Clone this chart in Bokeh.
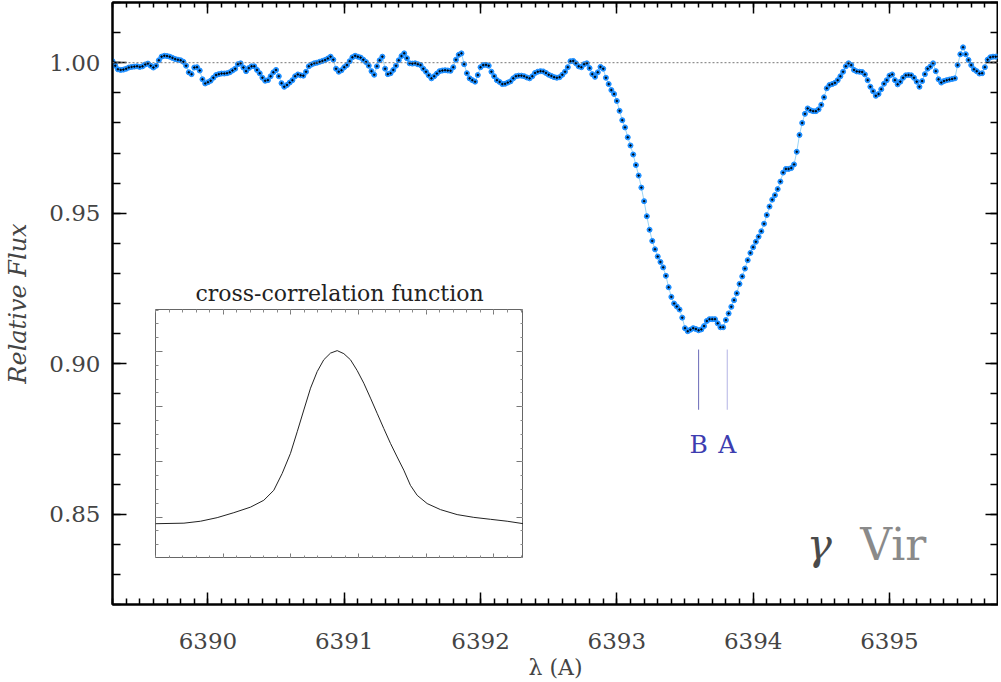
import numpy as np
from bokeh.plotting import figure
from bokeh.models import (Range1d, FixedTicker, LinearAxis, Span, PrintfTickFormatter,
                          CustomLabelingPolicy)
from bokeh.layouts import column
from bokeh.core.properties import value
from bokeh.embed import file_html
from bokeh.resources import INLINE

FONT = "DejaVu Serif"

# ---------------- data ----------------
wavelength_start = 6389.30
wavelength_step = 0.02
flux = [
    1.0005, 0.9990, 0.9978, 0.9976, 0.9977, 0.9980, 0.9984, 0.9986, 0.9987, 0.9988,  # 6389.30
    0.9986, 0.9988, 0.9994, 0.9997, 0.9990, 0.9984, 0.9990, 1.0008, 1.0020, 1.0023,  # 6389.50
    1.0022, 1.0020, 1.0016, 1.0012, 1.0010, 1.0008, 1.0003, 0.9990, 0.9968, 0.9962,  # 6389.70
    0.9984, 0.9985, 0.9974, 0.9945, 0.9931, 0.9935, 0.9940, 0.9950, 0.9959, 0.9962,  # 6389.90
    0.9964, 0.9964, 0.9965, 0.9968, 0.9974, 0.9980, 0.9995, 0.9998, 0.9984, 0.9972,  # 6390.10
    0.9982, 0.9988, 0.9988, 0.9976, 0.9965, 0.9950, 0.9940, 0.9942, 0.9955, 0.9968,  # 6390.30
    0.9976, 0.9955, 0.9932, 0.9920, 0.9926, 0.9934, 0.9942, 0.9955, 0.9961, 0.9958,  # 6390.50
    0.9957, 0.9970, 0.9988, 0.9994, 0.9998, 1.0000, 1.0003, 1.0006, 1.0009, 1.0014,  # 6390.70
    1.0020, 1.0010, 0.9980, 0.9970, 0.9975, 0.9985, 0.9992, 1.0005, 1.0018, 1.0023,  # 6390.90
    1.0020, 1.0017, 1.0010, 1.0002, 0.9990, 0.9972, 0.9960, 0.9988, 1.0008, 1.0020,  # 6391.10
    0.9980, 0.9962, 0.9965, 0.9976, 0.9990, 1.0008, 1.0022, 1.0031, 1.0015, 0.9998,  # 6391.30
    0.9997, 0.9998, 0.9995, 0.9992, 0.9980, 0.9970, 0.9958, 0.9948, 0.9955, 0.9964,  # 6391.50
    0.9972, 0.9974, 0.9975, 0.9974, 0.9973, 0.9985, 1.0010, 1.0026, 1.0031, 0.9995,  # 6391.70
    0.9965, 0.9948, 0.9942, 0.9937, 0.9959, 0.9985, 0.9992, 0.9993, 0.9990, 0.9970,  # 6391.90
    0.9955, 0.9942, 0.9936, 0.9929, 0.9930, 0.9934, 0.9938, 0.9948, 0.9955, 0.9957,  # 6392.10
    0.9957, 0.9955, 0.9951, 0.9948, 0.9955, 0.9966, 0.9970, 0.9972, 0.9971, 0.9966,  # 6392.30
    0.9960, 0.9956, 0.9952, 0.9950, 0.9952, 0.9960, 0.9970, 0.9985, 1.0005, 1.0006,  # 6392.50
    0.9998, 0.9988, 0.9985, 0.9995, 0.9998, 0.9982, 0.9962, 0.9953, 0.9968, 0.9986,  # 6392.70
    0.9980, 0.9950, 0.9929, 0.9909, 0.9896, 0.9873, 0.9840, 0.9809, 0.9785, 0.9752,  # 6392.90
    0.9725, 0.9695, 0.9660, 0.9625, 0.9585, 0.9540, 0.9490, 0.9445, 0.9408, 0.9380,  # 6393.10
    0.9356, 0.9338, 0.9320, 0.9292, 0.9254, 0.9222, 0.9200, 0.9190, 0.9180, 0.9153,  # 6393.30
    0.9118, 0.9108, 0.9113, 0.9118, 0.9115, 0.9111, 0.9114, 0.9125, 0.9142, 0.9148,  # 6393.50
    0.9148, 0.9148, 0.9134, 0.9121, 0.9121, 0.9145, 0.9167, 0.9189, 0.9211, 0.9234,  # 6393.70
    0.9265, 0.9290, 0.9316, 0.9344, 0.9368, 0.9387, 0.9405, 0.9422, 0.9440, 0.9465,  # 6393.90
    0.9494, 0.9522, 0.9545, 0.9560, 0.9580, 0.9605, 0.9635, 0.9647, 0.9647, 0.9650,  # 6394.10
    0.9662, 0.9704, 0.9760, 0.9800, 0.9830, 0.9848, 0.9842, 0.9839, 0.9839, 0.9845,  # 6394.30
    0.9860, 0.9885, 0.9915, 0.9926, 0.9929, 0.9933, 0.9942, 0.9955, 0.9970, 0.9988,  # 6394.50
    0.9998, 0.9992, 0.9976, 0.9971, 0.9970, 0.9969, 0.9961, 0.9942, 0.9920, 0.9905,  # 6394.70
    0.9890, 0.9896, 0.9912, 0.9930, 0.9942, 0.9957, 0.9961, 0.9942, 0.9928, 0.9937,  # 6394.90
    0.9950, 0.9958, 0.9959, 0.9958, 0.9950, 0.9937, 0.9920, 0.9939, 0.9962, 0.9980,  # 6395.10
    0.9987, 0.9998, 0.9972, 0.9945, 0.9934, 0.9939, 0.9942, 0.9944, 0.9946, 0.9948,  # 6395.30
    0.9992, 1.0028, 1.0051, 1.0028, 1.0009, 0.9992, 0.9978, 0.9972, 0.9964, 0.9965,  # 6395.50
    0.9985, 1.0010, 1.0018, 1.0020, 1.0020, 1.0021,                                  # 6395.70
]
wavelength = wavelength_start + wavelength_step * np.arange(len(flux))

x_major_ticks = [6390, 6391, 6392, 6393, 6394, 6395]
y_major_ticks = [0.85, 0.90, 0.95, 1.00]

component_names = ["B", "A"]
component_lambda = [6393.60, 6393.81]
component_colors = ["#6a6ab8", "#b4b4e4"]
marker_bottom = 0.8847
marker_top = 0.9047
label_level = 0.8731

# cross-correlation function (inset)
ccf_shift = [-3.000, -2.580, -2.335, -2.089, -1.843, -1.597, -1.400, -1.253, -1.129, -1.006,
             -0.907, -0.809, -0.710, -0.612, -0.514, -0.415, -0.316, -0.218, -0.120, -0.021,
             0.077, 0.176, 0.274, 0.372, 0.471, 0.569, 0.668, 0.766, 0.865, 1.013,
             1.210, 1.456, 1.702, 1.948, 2.195, 2.436]
ccf_value = [0.176, 0.178, 0.185, 0.198, 0.216, 0.236, 0.261, 0.297, 0.358, 0.431,
             0.509, 0.588, 0.667, 0.727, 0.770, 0.794, 0.803, 0.792, 0.770, 0.731,
             0.685, 0.631, 0.576, 0.521, 0.467, 0.418, 0.370, 0.315, 0.279, 0.249,
             0.227, 0.209, 0.199, 0.192, 0.185, 0.176]
ccf_x_major = [-2, -1, 0, 1, 2]
ccf_y_major = [0.2, 0.4, 0.6, 0.8]

# hides tick labels of the tick-only (mirror) axes
NO_LABELS_CODE = """
try { for (const i of Array.from(indices)) { indices.unset(i) } } catch (e) {}
return indices
"""

# ---------------- main figure ----------------
p = figure(frame_width=886, frame_height=602,
           x_range=Range1d(6389.3, 6395.8), y_range=Range1d(0.82, 1.02),
           output_backend="svg", toolbar_location=None,
           min_border_left=112, min_border_right=0, min_border_top=2, min_border_bottom=72,
           x_axis_label="λ (A)", y_axis_label="Relative Flux")
p.grid.visible = False
p.outline_line_color = "black"
p.outline_line_width = 2
p.background_fill_color = "white"

x_minor = [round(v, 2) for v in np.arange(6389.3, 6395.85, 0.1)]
y_minor = [round(v, 3) for v in np.arange(0.82, 1.0201, 0.01)]
xt = FixedTicker(ticks=x_major_ticks, minor_ticks=x_minor)
yt = FixedTicker(ticks=y_major_ticks, minor_ticks=y_minor)

top_axis = LinearAxis(ticker=xt)
right_axis = LinearAxis(ticker=yt)
p.add_layout(top_axis, "above")
p.add_layout(right_axis, "right")

for ax in p.axis:
    ax.axis_line_width = 2
    ax.axis_line_color = "black"
    ax.major_tick_line_width = 1.5
    ax.minor_tick_line_width = 1.5
    ax.major_tick_line_color = "black"
    ax.minor_tick_line_color = "black"
    ax.major_tick_out = 0
    ax.minor_tick_out = 0
    ax.major_label_text_font = FONT
    ax.major_label_text_font_size = "23px"
    ax.major_label_text_color = "#444444"
    ax.axis_label_text_font = FONT
    ax.axis_label_text_font_size = "22px"
    ax.axis_label_text_color = "#444444"
    ax.axis_label_text_font_style = "normal"

for ax in p.xaxis:
    ax.ticker = xt
    ax.formatter = PrintfTickFormatter(format="%d")
    ax.major_tick_in = 12
    ax.minor_tick_in = 6
    ax.major_label_standoff = 28
    ax.axis_label_standoff = 3
for ax in p.yaxis:
    ax.ticker = yt
    ax.formatter = PrintfTickFormatter(format="%.2f")
    ax.major_tick_in = 14
    ax.minor_tick_in = 8
    ax.major_label_standoff = 12
    ax.axis_label_standoff = 14
p.yaxis[0].axis_label_text_font_style = "italic"
p.yaxis[0].axis_label_text_font_size = "24px"

top_axis.major_tick_in = 11
top_axis.minor_tick_in = 5
right_axis.major_tick_in = 13
right_axis.minor_tick_in = 8
for ax in (top_axis, right_axis):
    ax.major_label_text_font_size = "0px"
    ax.major_label_standoff = 0
    ax.axis_label = None
    ax.major_label_policy = CustomLabelingPolicy(code=NO_LABELS_CODE)

p.add_layout(Span(location=1.0, dimension="width", line_color="#777777",
                  line_dash="2 2", line_width=1))

p.line(wavelength, flux, line_color="#9ad4f5", line_width=1)
p.scatter(wavelength, flux, size=5, fill_color="#1e8fff", line_color="#1e8fff")
p.scatter(wavelength, flux, size=1.5, fill_color="black", line_color="black")

p.segment(x0=component_lambda, y0=[marker_bottom] * 2, x1=component_lambda, y1=[marker_top] * 2,
          line_color=component_colors, line_width=1)
p.text(x=component_lambda, y=[label_level] * 2, text=component_names,
       text_align="center", text_baseline="middle", text_font=value(FONT),
       text_font_size="25px", text_color="#3d3db0")

p.text(x=[6394.485], y=[0.8399], text=["γ"], text_align="center", text_baseline="alphabetic",
       text_font=value(FONT), text_font_size="42px", text_font_style="italic", text_color="#4a4a4a")
p.text(x=[6394.785], y=[0.8399], text=["Vir"], text_align="left", text_baseline="alphabetic",
       text_font=value(FONT), text_font_size="44px", text_color="#8a8a8a")

# ---------------- inset ----------------
# (the column aligns the inset's left border with the main plot's 112 px border)
inset = figure(width=480, height=284,
               x_range=Range1d(-3.0, 2.436), y_range=Range1d(0.05, 0.952),
               output_backend="svg", toolbar_location=None,
               min_border_left=0, min_border_right=0, min_border_top=0, min_border_bottom=0,
               title="cross-correlation function")
inset.grid.visible = False
inset.border_fill_alpha = 0
inset.background_fill_color = "white"
inset.outline_line_color = "#666666"
inset.outline_line_width = 1
inset.title.align = "center"
inset.title.text_font = FONT
inset.title.text_font_size = "22px"
inset.title.text_font_style = "normal"
inset.title.text_color = "#222222"
inset.title.standoff = 8

ixt = FixedTicker(ticks=ccf_x_major, minor_ticks=[round(v, 2) for v in np.arange(-3.0, 2.44, 0.2)])
iyt = FixedTicker(ticks=ccf_y_major, minor_ticks=[round(v, 3) for v in np.arange(0.05, 0.96, 0.05)])
inset.add_layout(LinearAxis(), "above")
inset.add_layout(LinearAxis(), "right")
for ax in inset.axis:
    ax.major_label_text_font_size = "0px"
    ax.major_label_standoff = 0
    ax.major_label_policy = CustomLabelingPolicy(code=NO_LABELS_CODE)
    ax.axis_label = None
    ax.axis_line_color = None
    ax.major_tick_out = 0
    ax.minor_tick_out = 0
    ax.major_tick_line_color = "#777777"
    ax.minor_tick_line_color = "#888888"
for ax in inset.xaxis:
    ax.ticker = ixt
    ax.major_tick_in = 5
    ax.minor_tick_in = 3
for ax in inset.yaxis:
    ax.ticker = iyt
    ax.major_tick_in = 7
    ax.minor_tick_in = 3

inset.line(ccf_shift, ccf_value, line_color="#222222", line_width=1)

inset.styles = {"position": "absolute", "left": "43px", "top": "274px"}

layout = column(p, inset, styles={"position": "relative"})

open("out.html", "w").write(file_html(layout, INLINE))
